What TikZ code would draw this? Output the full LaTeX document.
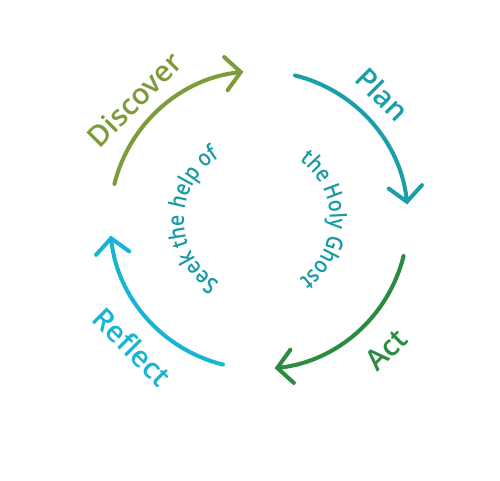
\documentclass[tikz,border=0pt]{standalone}
\usepackage{fontspec}
\setmainfont{Open Sans}[BoldFont={Open Sans Semibold}]
\newfontfamily\innerfam{Open Sans Semibold}[FakeStretch=0.85]
\usetikzlibrary{arrows.meta, decorations.text}

\definecolor{discgreen}{HTML}{7E9B3A}
\definecolor{planteal}{HTML}{1A9EA8}
\definecolor{actgreen}{HTML}{2A8C3E}
\definecolor{reflcyan}{HTML}{18B4D6}
\definecolor{innerteal}{HTML}{1A9AA6}

\newcommand{\innerfont}{\innerfam\fontsize{13}{15}\selectfont}

\begin{document}
\begin{tikzpicture}[x=0.02cm, y=0.02cm,
    cyclearc/.style={line width=2.3pt, line cap=round,
        -{Straight Barb[length=8.5pt, width=19pt, line cap=round]}},
    stagelabel/.style={font=\fontsize{16.5}{20}\selectfont\bfseries, inner sep=0pt}]
    \useasboundingbox (-259,-260) rectangle (241,220);
    \coordinate (c) at (0,0);
    \coordinate (t) at (-2,0);
    % the four arcs of the cycle
    \draw[cyclearc, discgreen] (c) ++(166:149) arc[start angle=166, end angle=96, radius=149];
    \draw[cyclearc, planteal] (c) ++(76:149) arc[start angle=76, end angle=6, radius=149];
    \draw[cyclearc, actgreen] (c) ++(-14:149) arc[start angle=-14, end angle=-84, radius=149];
    \draw[cyclearc, reflcyan] (c) ++(-104:149) arc[start angle=-104, end angle=-174, radius=149];
    % stage names
    \node[stagelabel, text=discgreen, rotate=45] (disc) at (136:173) {Discover};
    \node[stagelabel, text=planteal, rotate=-45] (plan) at (45.5:176) {Plan};
    \node[stagelabel, text=actgreen, rotate=45] (act) at (-45.5:182) {Act};
    \node[stagelabel, text=reflcyan, rotate=-45] (refl) at (-135:179) {Reflect};
    % words round the inside
    \path[decorate, decoration={text along path, text align=center,
        text={|\innerfont\color{innerteal}|Seek the help of}}]
        (t) ++(265:73) arc[start angle=265, end angle=95, radius=73];
    \path[decorate, decoration={text along path, text align=center,
        text={|\innerfont\color{innerteal}|the Holy Ghost}}]
        (t) ++(85:73) arc[start angle=85, end angle=-85, radius=73];
\end{tikzpicture}
\end{document}
